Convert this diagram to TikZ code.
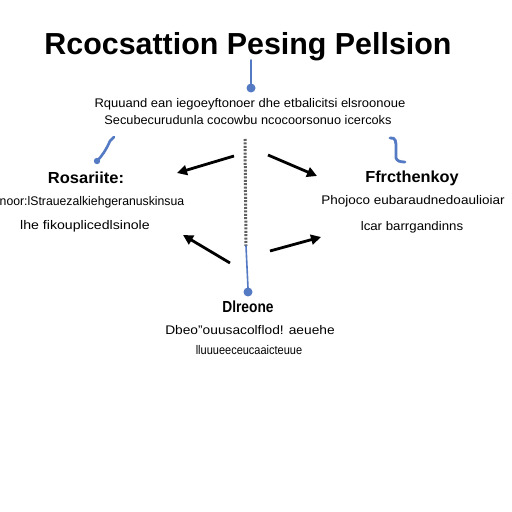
\documentclass[tikz,border=0pt]{standalone}
\usepackage{fontspec}
\setmainfont{Liberation Sans}
\usetikzlibrary{arrows.meta}
\definecolor{pinblue}{RGB}{84,122,196}
\tikzset{
  small/.style={font=\fontsize{12.5}{14}\selectfont, inner sep=0pt},
  head/.style={font=\bfseries\fontsize{16}{18}\selectfont, inner sep=0pt},
  bigarrow/.style={line width=2.8pt, -{Triangle[length=10pt,width=10pt]}},
  pin/.style={color=pinblue, line width=1.6pt, line cap=round}
}
\begin{document}
\begin{tikzpicture}[x=1pt,y=1pt]
            \useasboundingbox (0,0) rectangle (512,512);
            \fill[white] (0,0) rectangle (512,512);
            % title
            \node[font=\bfseries\fontsize{30.4}{34}\selectfont, inner sep=0pt] (title) at (248,465) {Rcocsattion Pesing Pellsion};
            % top pin and text
            \draw[pin] (251,452) -- (251,426);
            \fill[pinblue] (251,424) circle(4.5);
            \node[small, xscale=1.04] (topa) at (250,408) {Rquuand ean iegoeyftonoer dhe etbalicitsi elsroonoue};
            \node[small, xscale=1.02] (topb) at (248,392) {Secubecurudunla cocowbu ncocoorsonuo icercoks};
            % left block
            \draw[pin, line width=2.6pt] (114,375) -- (110,371) .. controls (106,362) and (102,356) .. (97,351);
            \fill[pinblue] (97,351) circle(3.2);
            \node[head, xscale=1.03] (lefthead) at (86,334) {Rosariite:};
            \node[small, xscale=0.98] (lefta) at (92,310) {noor:lStrauezalkiehgeranuskinsua};
            \node[small, xscale=1.13] (leftb) at (85,286) {lhe fikouplicedlsinole};
            % right block
            \draw[pin, line width=2.8pt] (390,374) .. controls (396,375) and (396,370) .. (396,364) -- (396,354) .. controls (397,351) and (400,350) .. (405,350);
            \node[head, xscale=1.02] (righthead) at (412,334) {Ffrcthenkoy};
            \node[small, xscale=1.08] (righta) at (413,311) {Phojoco eubaraudnedoaulioiar};
            \node[small, xscale=1.06] (rightb) at (412,285) {lcar barrgandinns};
            % centre column
            \coordinate (ctop) at (245,373);
            \coordinate (cmid) at (246,266);
            \draw[gray!75!black, line width=3pt, dash pattern=on 2pt off 1.4pt] (ctop) -- (cmid);
            \draw[pin] (cmid) -- (248,224);
            \fill[pinblue] (248,220) circle(4.5);
            % bottom block
            \node[head, xscale=0.86] (bothead) at (248,205) {Dlreone};
            \node[small, xscale=1.1] (bota) at (250,182) {Dbeo"ouusacolflod! aeuehe};
            \node[small, xscale=0.88] (botb) at (249,162) {lluuueeceucaaicteuue};
            % arrows
            \coordinate (a1) at (234,356);
            \coordinate (a2) at (177,339);
            \coordinate (b1) at (268,357);
            \coordinate (b2) at (317,336);
            \coordinate (c1) at (230,249);
            \coordinate (c2) at (183,277);
            \coordinate (d1) at (270,261);
            \coordinate (d2) at (321,275);
            \draw[bigarrow] (a1) -- (a2);
            \draw[bigarrow] (b1) -- (b2);
            \draw[bigarrow] (c1) -- (c2);
            \draw[bigarrow] (d1) -- (d2);
          \end{tikzpicture}
\end{document}
